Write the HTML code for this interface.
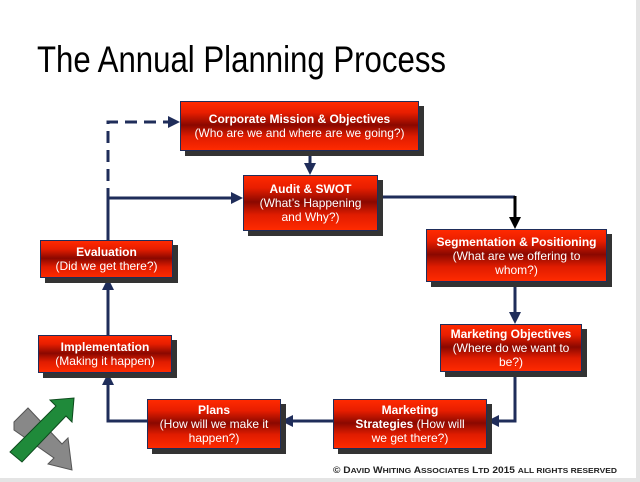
<!DOCTYPE html>
<html><head><meta charset="utf-8"><style>
*{margin:0;padding:0;box-sizing:border-box}
body{width:640px;height:482px;background:#e4e4e4;position:relative;overflow:hidden;font-family:"Liberation Sans",Arial,sans-serif}
#slide{position:absolute;left:0;top:0;width:636px;height:478px;background:#fff}
.b{position:absolute;border:1.5px solid #1f2d5a;box-shadow:5px 5px 0 #333;color:#fff;text-align:center;font-size:12px;line-height:14px;display:flex;flex-direction:column;justify-content:center;
background:linear-gradient(to bottom,#ff2a00 0%,#e81e00 22%,#8a0800 48%,#e01c00 72%,#ff2a00 100%)}
.b b{font-weight:bold}
svg{position:absolute;left:0;top:0}
</style></head><body><div id="slide"></div>
<svg width="640" height="482">
<text x="37" y="72" font-family="Liberation Sans, sans-serif" font-size="37" textLength="409" lengthAdjust="spacingAndGlyphs" fill="#000">The Annual Planning Process</text>
<g stroke="#1f2d5a" stroke-width="3" fill="none">
<path d="M108,420 V390 M108,335 V288 M108,240 V200" />
<path d="M108,200 V122 H168" stroke-dasharray="12,7"/>
<path d="M108,198 H232"/>
<path d="M310,151 V164"/>
<path d="M378,197 H515"/>
<path d="M515,282 V312"/>
<path d="M515,372 V421 H498"/>
<path d="M333,421 H292"/>
<path d="M147,421 H108 V378"/>
</g>
<path d="M515,196 V218" stroke="#000" stroke-width="3"/>
<g fill="#1f2d5a">
<polygon points="180,122 168,116 168,128"/>
<polygon points="243,198 231,192 231,204"/>
<polygon points="310,175 304,163 316,163"/>
<polygon points="515,324 509,312 521,312"/>
<polygon points="487,421 499,415 499,427"/>
<polygon points="281,421 293,415 293,427"/>
<polygon points="108,278 102,290 114,290"/>
<polygon points="108,373 102,385 114,385"/>
</g>
<polygon points="515,229 509,217 521,217" fill="#000"/>
<g>
<polygon points="14,422 28,408 62,444 68,438 72,470 48,464 54,458 14,430" fill="#888" stroke="#555" stroke-width="1"/>
<polygon points="10,452 56,406 50,400 74,398 72,422 66,416 22,462" fill="#1f8a3a" stroke="#0d4a1d" stroke-width="1"/>
</g>
<text x="333" y="473" font-family="Liberation Sans, sans-serif" font-size="9" font-weight="bold" fill="#222" textLength="284" lengthAdjust="spacingAndGlyphs">© D<tspan font-size="7.5">AVID</tspan> W<tspan font-size="7.5">HITING</tspan> A<tspan font-size="7.5">SSOCIATES</tspan> L<tspan font-size="7.5">TD</tspan> 2015 <tspan font-size="7.5">ALL RIGHTS RESERVED</tspan></text>
</svg>
<div class="b" style="left:180px;top:101px;width:239px;height:50px"><b>Corporate Mission &amp; Objectives</b>(Who are we and where are we going?)</div>
<div class="b" style="left:243px;top:175px;width:135px;height:56px"><b>Audit &amp; SWOT</b>(What’s Happening<br>and Why?)</div>
<div class="b" style="left:426px;top:229px;width:181px;height:53px"><b>Segmentation &amp; Positioning</b>(What are we offering to<br>whom?)</div>
<div class="b" style="left:440px;top:324px;width:142px;height:48px"><b>Marketing Objectives</b>(Where do we want to<br>be?)</div>
<div class="b" style="left:333px;top:399px;width:154px;height:50px"><b>Marketing</b><span><b>Strategies</b> (How will</span>we get there?)</div>
<div class="b" style="left:147px;top:399px;width:134px;height:50px"><b>Plans</b>(How will we make it<br>happen?)</div>
<div class="b" style="left:40px;top:240px;width:133px;height:38px"><b>Evaluation</b>(Did we get there?)</div>
<div class="b" style="left:38px;top:335px;width:134px;height:38px"><b>Implementation</b>(Making it happen)</div>
</body></html>
